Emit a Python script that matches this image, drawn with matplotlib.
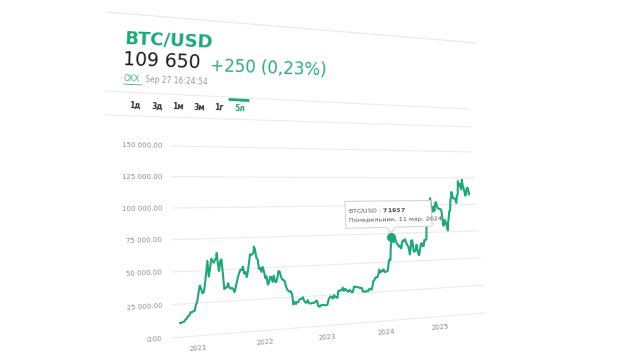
import numpy as np
import pandas as pd
import matplotlib
matplotlib.use("Agg")
import matplotlib.pyplot as plt
import matplotlib.dates as mdates
from matplotlib.transforms import Transform, Affine2D, IdentityTransform, offset_copy
from matplotlib.patches import Polygon
from matplotlib.lines import Line2D

# ---------------- data (thousand USD, weekly closes from 2020-09-27) ----------------
start_date = "2020-09-27"
close_2020 = [10.8, 10.7, 11.4, 11.5, 13.0, 13.7, 15.5, 16.0, 18.4, 18.2, 19.1, 19.2, 23.8, 26.3]
close_2021 = [32.8, 38.4, 35.8, 32.3, 33.1, 39.3, 48.6, 57.5, 45.1, 51.2, 59.0, 57.4, 55.8,
              58.2, 60.0, 56.2, 49.1, 56.6, 58.2, 46.4, 34.7, 35.7, 35.8, 39.1, 35.6, 34.7,
              35.3, 34.2, 31.8, 35.4, 39.9, 43.8, 47.0, 49.3, 48.8, 51.8, 46.0, 47.3, 43.2,
              48.2, 54.9, 61.5, 60.9, 61.3, 63.3, 65.5, 58.6, 57.2, 49.4, 50.1, 46.7, 50.8]
close_2022 = [47.3, 41.8, 43.1, 36.3, 37.9, 42.4, 42.2, 38.3, 43.2, 38.4, 37.8, 41.3, 46.8,
              46.4, 42.2, 39.7, 39.5, 38.5, 34.1, 31.3, 30.3, 29.4, 29.9, 26.6, 20.5, 21.0,
              19.3, 20.9, 20.8, 22.6, 23.3, 23.2, 24.3, 21.5, 20.0, 19.8, 21.8, 19.4, 18.9,
              19.0, 19.4, 19.2, 19.6, 20.6, 20.9, 16.3, 16.3, 16.5, 17.1, 17.1, 16.8, 16.8]
close_2023 = [16.6, 17.1, 20.9, 22.7, 23.7, 22.9, 21.8, 24.6, 23.2, 22.4, 22.1, 28.0, 27.9,
              28.2, 28.3, 30.3, 27.6, 29.2, 28.4, 26.9, 26.8, 28.1, 27.1, 25.9, 26.3, 30.5,
              30.6, 30.2, 30.2, 29.8, 29.3, 29.0, 29.3, 26.1, 26.0, 25.8, 25.8, 26.5, 26.2,
              27.9, 27.9, 27.1, 30.0, 34.5, 35.0, 37.1, 37.4, 37.5, 39.9, 43.8, 41.4, 43.0, 42.3]
close_2024 = [44.0, 41.7, 41.6, 42.1, 42.6, 48.3, 52.1, 51.7, 63.1, 68.9, 68.4, 67.2, 71.3,
              69.4, 65.7, 64.9, 63.1, 63.9, 61.5, 66.9, 68.5, 67.8, 69.6, 66.5, 64.2, 62.7,
              55.9, 60.8, 68.2, 68.3, 58.1, 58.7, 59.5, 64.2, 57.3, 54.8, 59.2, 63.6, 65.6,
              62.8, 62.9, 68.4, 68.0, 68.7, 80.4, 90.5, 98.0, 97.2, 101.1, 104.4, 95.1, 93.7]
close_2025 = [98.3, 94.5, 101.1, 102.6, 97.7, 96.5, 96.1, 96.3, 94.2, 80.7, 82.6, 86.0, 82.3,
              78.4, 83.6, 87.5, 93.7, 94.3, 104.6, 106.4, 109.0, 105.7, 105.6, 105.5, 101.5,
              108.4, 109.2, 119.8, 117.3, 119.4, 114.2, 119.3, 117.4, 113.5, 108.2, 111.1,
              115.3, 115.7, 109.6]
# daily extremes visible in the line
extra_dates = ["2021-04-13", "2021-11-08", "2022-06-18", "2022-11-21", "2024-03-11",
               "2024-03-13", "2024-12-17", "2025-04-08", "2025-05-22", "2025-07-14", "2025-08-13"]
extra_values = [63.5, 67.5, 19.0, 15.8, 71.937, 73.1, 106.1, 76.3, 111.7, 122.0, 123.3]

y_ticks = [0, 25000, 50000, 75000, 100000, 125000, 150000]
year_labels = ["2021", "2022", "2023", "2024", "2025"]
x_range = ["2020-08-11", "2025-11-20"]

tip_date = "2024-03-11"
tip_value = 71937
tip_line1 = "BTC/USD : $\\mathbf{71937}$"
tip_line2 = "Понедельник, 11 мар, 2024"

title = "BTC/USD"
price_text = "109 650"
change_text = "+250 (0,23%)"
source_text = "OKX"
time_text = "Sep 27 16:24:54"
tabs = ["1д", "3д", "1м", "3м", "1г", "5л"]

# ---------------- perspective transform ----------------
def homography(src, dst):
    A, b = [], []
    for (x, y), (u, v) in zip(src, dst):
        A.append([x, y, 1, 0, 0, 0, -u * x, -u * y]); b.append(u)
        A.append([0, 0, 0, x, y, 1, -v * x, -v * y]); b.append(v)
    h = np.linalg.solve(np.array(A, float), np.array(b, float))
    return np.append(h, 1.0).reshape(3, 3)


class Persp(Transform):
    input_dims = 2
    output_dims = 2
    is_separable = False
    has_inverse = True

    def __init__(self, M):
        super().__init__()
        self.M = np.asarray(M, float)

    def transform_non_affine(self, values):
        v = np.asarray(values, float).reshape(-1, 2)
        h = np.column_stack([v, np.ones(len(v))]) @ self.M.T
        return h[:, :2] / h[:, 2:3]

    def inverted(self):
        return Persp(np.linalg.inv(self.M))


GREEN = "#1fa67a"
FW, FH = 640, 360
fig = plt.figure(figsize=(6.4, 3.6), dpi=100)
fig.patch.set_facecolor("white")

L, R, B, T = 171, 551, 22, 214
ax = fig.add_axes([L / FW, B / FH, (R - L) / FW, (T - B) / FH])
ax.set_axis_off()
ax.set_autoscale_on(False)
xlo, xhi = mdates.date2num(pd.to_datetime(x_range))
ax.set_xlim(xlo, xhi)
ax.set_ylim(y_ticks[0], y_ticks[-1])

P = Persp(homography([(L, B), (L, T), (R, B), (R, T)],
                     [(171, 22), (171, 214), (485, 47), (473, 208)]))
tr = ax.transData + P


def angle_flat(p):
    p = np.asarray(p, float).reshape(1, 2)
    a = P.transform(p)[0]
    b = P.transform(p + np.array([[1.0, 0.0]]))[0]
    return np.degrees(np.arctan2(b[1] - a[1], b[0] - a[0]))


# ---------------- series ----------------
weekly = close_2020 + close_2021 + close_2022 + close_2023 + close_2024 + close_2025
s = pd.Series(weekly, index=pd.date_range(start_date, periods=len(weekly), freq="7D"))
s = pd.concat([s, pd.Series(extra_values, index=pd.to_datetime(extra_dates))]).sort_index()
xs = mdates.date2num(s.index)
ys = s.values * 1000

# grid
ax.hlines(y_ticks, xlo, xhi, colors="#ebebeb", lw=0.8, transform=tr, clip_on=False, zorder=1)

# y labels
for v in y_ticks:
    p = ax.transData.transform((xlo, v)) + np.array([-9.0, 0.0])
    lab = f"{v:,.2f}".replace(",", " ")
    ax.text(xlo, v, lab, transform=offset_copy(ax.transData, x=-9, y=0, units="dots") + P,
            ha="right", va="center", fontsize=5, color="#8c8c8c",
            rotation=angle_flat(p), rotation_mode="anchor", clip_on=False)

# x labels
for yl in year_labels:
    xv = mdates.date2num(pd.Timestamp(f"{yl}-01-01"))
    p = ax.transData.transform((xv, 0)) + np.array([0.0, -12.0])
    ax.text(xv, 0, yl, transform=offset_copy(ax.transData, x=0, y=-12, units="dots") + P,
            ha="center", va="center", fontsize=5, color="#8c8c8c",
            rotation=angle_flat(p), rotation_mode="anchor", clip_on=False)

# line
ax.plot(xs, ys, color=GREEN, lw=1.5, transform=tr, clip_on=False, zorder=3,
        solid_joinstyle="round")

# tooltip marker
mx = mdates.date2num(pd.Timestamp(tip_date))
ax.plot([mx], [tip_value], "o", ms=5.5, color=GREEN, transform=tr, clip_on=False, zorder=4)

anchor = ax.transData.transform((mx, tip_value))
tt = Affine2D().translate(*anchor) + P
poly = Polygon([(-58, 11), (-6, 11), (0, 5), (6, 11), (56, 11), (56, 41), (-58, 41)],
               closed=True, fc="white", ec="#cfcfcf", lw=0.7, transform=tt, zorder=5)
fig.add_artist(poly)
ang_t = angle_flat(anchor + np.array([0.0, 25.0]))
fig.text(-54, 30, tip_line1, transform=tt, fontsize=4.6, color="#555555", ha="left",
         va="center", rotation=ang_t, rotation_mode="anchor", zorder=6)
fig.text(-54, 20, tip_line2, transform=tt, fontsize=4.6, color="#555555", ha="left",
         va="center", rotation=ang_t, rotation_mode="anchor", zorder=6)

# ---------------- header (image pixel coordinates) ----------------
ID = IdentityTransform()


def htext(x, y_img, s, rot=-2.5, **kw):
    fig.text(x, FH - y_img, s, transform=ID, rotation=rot, rotation_mode="anchor", **kw)


def hline(p1, p2, **kw):
    fig.add_artist(Line2D([p1[0], p2[0]], [FH - p1[1], FH - p2[1]], transform=ID, **kw))


hline((107, 12), (477, 43), color="#e8e8e8", lw=0.8)
hline((105, 91), (468, 109), color="#ececec", lw=0.8)
hline((105, 115), (472, 127), color="#ececec", lw=0.8)

htext(124, 44, title, fontsize=13, fontweight="bold", color=GREEN, ha="left", va="baseline")
htext(123, 65, price_text, fontsize=13.5, color="#1a1a1a", ha="left", va="baseline")
htext(210, 71, change_text, rot=-2.2, fontsize=12, color="#2aa983", ha="left", va="baseline")
htext(124, 81, source_text, fontsize=5.5, color="#4aa98a", ha="left", va="baseline")
hline((124, 84), (142, 85), color="#4aa98a", lw=0.6)
htext(145, 82, time_text, fontsize=5.5, color="#9b9b9b", ha="left", va="baseline")

tab_x = [135, 157, 178, 199, 219, 240]
tab_y = [106, 106.5, 107, 107.5, 108, 109]
for i, (tx, ty, lab) in enumerate(zip(tab_x, tab_y, tabs)):
    htext(tx, ty, lab, rot=-2.0, fontsize=5.5, fontweight="bold",
          color=GREEN if i == len(tabs) - 1 else "#333333", ha="center", va="center")
hline((230, 99.5), (248, 100.5), color=GREEN, lw=2)

fig.savefig("out.png", dpi=100)
